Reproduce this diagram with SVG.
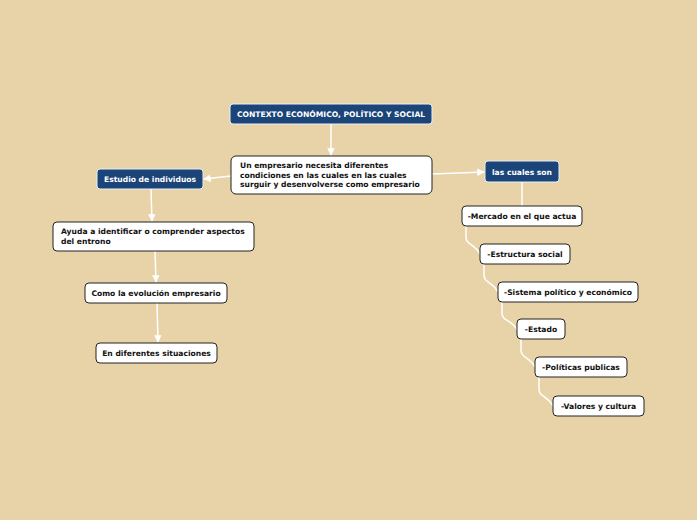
<svg xmlns="http://www.w3.org/2000/svg" width="697" height="520" viewBox="0 0 697 520">
<defs>
<style>
.d{fill:#1b4479;stroke:#e9f0f8;stroke-width:1}
.w{fill:#fff;stroke:#222;stroke-width:1}
text{font-family:"DejaVu Sans",Verdana,sans-serif;font-weight:bold;font-size:7.6px}
.tw{fill:#fff}.tb{fill:#111}
.c{fill:none;stroke:#fff;stroke-width:1.5}
</style>
<marker id="a" viewBox="0 0 10 10" refX="9" refY="5" markerWidth="5" markerHeight="5" orient="auto"><path d="M0 0L10 5L0 10z" fill="#fff"/></marker>
</defs>
<rect width="697" height="520" fill="#e8d2a8"/>
<g id="connectors">
<path class="c" d="M331 124V155" marker-end="url(#a)"/>
<path class="c" d="M432 174L484 172" marker-end="url(#a)"/>
<path class="c" d="M231 176L204 179" marker-end="url(#a)"/>
<path class="c" d="M151 189L152 221" marker-end="url(#a)"/>
<path class="c" d="M155 251L156 282" marker-end="url(#a)"/>
<path class="c" d="M157 303L158 342" marker-end="url(#a)"/>
<path class="c" d="M522 182V206"/>
<path class="c" d="M466 226V237C466 245 474 243 480 254"/>
<path class="c" d="M484 264V275C484 283 492 281 498 292"/>
<path class="c" d="M502 302V313C502 321 510 319 517 329"/>
<path class="c" d="M521 339V350C521 358 529 356 535 367"/>
<path class="c" d="M539 377V389C539 397 547 395 553 406"/>
</g>
<g id="title"><rect class="d" x="230" y="104" width="202" height="20" rx="3"/><text class="tw" x="331" y="117" text-anchor="middle">CONTEXTO ECONÓMICO, POLÍTICO Y SOCIAL</text></g>
<g id="main"><rect class="w" x="231" y="156" width="201" height="38" rx="5"/><text class="tb" x="240" y="168">Un empresario necesita diferentes</text><text class="tb" x="240" y="177.5">condiciones en las cuales en las cuales</text><text class="tb" x="240" y="187">surguir y desenvolverse como empresario</text></g>
<g id="cuales"><rect class="d" x="485" y="161" width="74" height="21" rx="3"/><text class="tw" x="522" y="174.5" text-anchor="middle">las cuales son</text></g>
<g id="estudio"><rect class="d" x="97" y="169" width="106" height="20" rx="3"/><text class="tw" x="150" y="182" text-anchor="middle">Estudio de individuos</text></g>
<g id="ayuda"><rect class="w" x="53" y="222" width="201" height="29" rx="4"/><text class="tb" x="61" y="234">Ayuda a identificar o comprender aspectos</text><text class="tb" x="61" y="244">del entrono</text></g>
<g id="como"><rect class="w" x="85" y="283" width="142" height="20" rx="4"/><text class="tb" x="156" y="296" text-anchor="middle">Como la evolución empresario</text></g>
<g id="endif"><rect class="w" x="96" y="343" width="121" height="20" rx="4"/><text class="tb" x="156.5" y="356" text-anchor="middle">En diferentes situaciones</text></g>
<g id="mercado"><rect class="w" x="462" y="206" width="120" height="20" rx="4"/><text class="tb" x="522" y="219" text-anchor="middle">-Mercado en el que actua</text></g>
<g id="estructura"><rect class="w" x="480" y="244" width="90" height="20" rx="4"/><text class="tb" x="525" y="257" text-anchor="middle">-Estructura social</text></g>
<g id="sistema"><rect class="w" x="498" y="282" width="140" height="20" rx="4"/><text class="tb" x="568" y="295" text-anchor="middle">-Sistema político y económico</text></g>
<g id="estado"><rect class="w" x="517" y="319" width="48" height="20" rx="4"/><text class="tb" x="541" y="332" text-anchor="middle">-Estado</text></g>
<g id="politicas"><rect class="w" x="535" y="357" width="92" height="20" rx="4"/><text class="tb" x="581" y="370" text-anchor="middle">-Políticas publicas</text></g>
<g id="valores"><rect class="w" x="553" y="396" width="91" height="20" rx="4"/><text class="tb" x="598.5" y="409" text-anchor="middle">-Valores y cultura</text></g>
</svg>
